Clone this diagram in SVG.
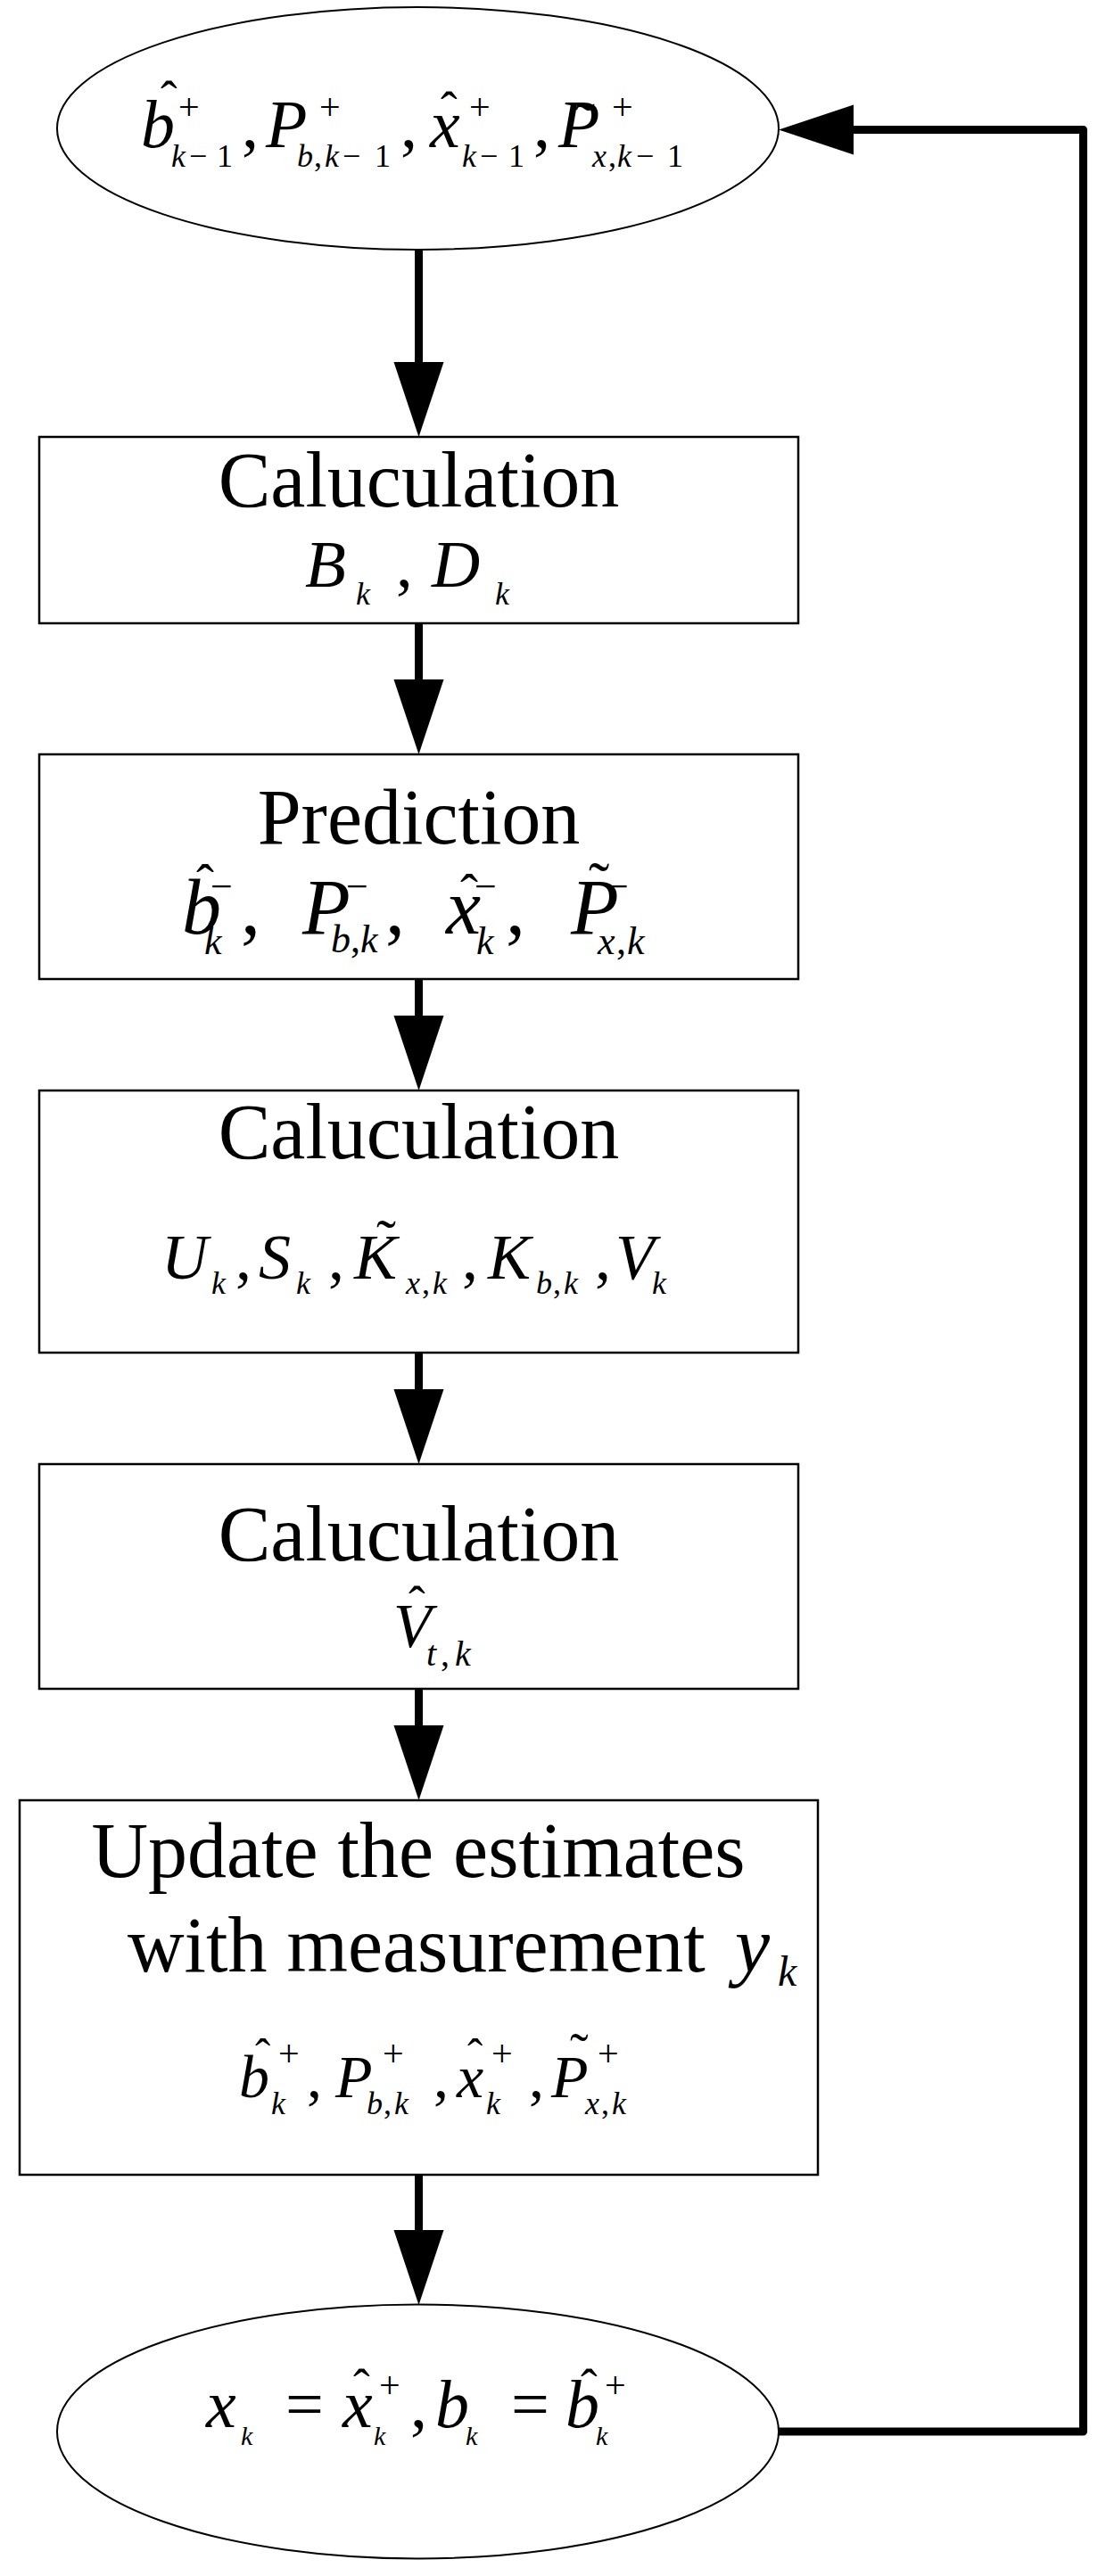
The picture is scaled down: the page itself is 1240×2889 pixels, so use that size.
<svg xmlns="http://www.w3.org/2000/svg" width="1240" height="2889" viewBox="0 0 1240 2889">
<defs>
<style>
text { font-family: "Liberation Serif", "Times New Roman", serif; fill: #000; }
.i { font-style: italic; }
.t { font-size: 88px; }
.node { fill: #fff; stroke: #000; stroke-width: 2.5; }
.oval { fill: #fff; stroke: #000; stroke-width: 2; }
.conn { fill: none; stroke: #000; stroke-width: 9; }
</style>
<marker id="ah" markerUnits="userSpaceOnUse" markerWidth="84" markerHeight="56" refX="0" refY="28" orient="auto" overflow="visible">
<path d="M0,0 L84,28 L0,56 Z" fill="#000"/>
</marker>
</defs>
<rect width="1240" height="2889" fill="#fff"/>

<g id="connectors">
<line class="conn" x1="469.5" y1="280" x2="469.5" y2="406" marker-end="url(#ah)"/>
<line class="conn" x1="469.5" y1="699" x2="469.5" y2="762" marker-end="url(#ah)"/>
<line class="conn" x1="469.5" y1="1098" x2="469.5" y2="1139" marker-end="url(#ah)"/>
<line class="conn" x1="469.5" y1="1517" x2="469.5" y2="1558" marker-end="url(#ah)"/>
<line class="conn" x1="469.5" y1="1894" x2="469.5" y2="1935" marker-end="url(#ah)"/>
<line class="conn" x1="469.5" y1="2439" x2="469.5" y2="2501" marker-end="url(#ah)"/>
<path class="conn" d="M873,2727 H1214.5 V145.5 H957" stroke-linejoin="round" stroke-linecap="round" marker-end="url(#ah)"/>
</g>

<g id="start">
<ellipse class="oval" cx="468.5" cy="144" rx="404.5" ry="136"/>
<text font-size="76"><tspan class="i" x="158" y="165">b</tspan><tspan x="180" y="130" font-size="56">ˆ</tspan><tspan x="200" y="134" font-size="42">+</tspan><tspan class="i" x="192" y="187" font-size="36">k</tspan><tspan x="212" y="187" font-size="36">−</tspan><tspan x="243" y="187" font-size="36">1</tspan><tspan x="271" y="165">,</tspan><tspan class="i" x="298" y="165">P</tspan><tspan x="358" y="134" font-size="42">+</tspan><tspan class="i" x="333" y="187" font-size="36">b</tspan><tspan x="352" y="187" font-size="36">,</tspan><tspan class="i" x="364" y="187" font-size="36">k</tspan><tspan x="384" y="187" font-size="36">−</tspan><tspan x="420" y="187" font-size="36">1</tspan><tspan x="449" y="165">,</tspan><tspan class="i" x="482" y="165">x</tspan><tspan x="494" y="142" font-size="56">ˆ</tspan><tspan x="526" y="134" font-size="42">+</tspan><tspan class="i" x="518" y="187" font-size="36">k</tspan><tspan x="538" y="187" font-size="36">−</tspan><tspan x="570" y="187" font-size="36">1</tspan><tspan x="598" y="165">,</tspan><tspan class="i" x="626" y="165">P</tspan><tspan x="645" y="160" font-size="66">˜</tspan><tspan x="686" y="134" font-size="42">+</tspan><tspan class="i" x="664" y="187" font-size="36">x</tspan><tspan x="682" y="187" font-size="36">,</tspan><tspan class="i" x="692" y="187" font-size="36">k</tspan><tspan x="713" y="187" font-size="36">−</tspan><tspan x="748" y="187" font-size="36">1</tspan></text>
</g>

<g id="calc1">
<rect class="node" x="44" y="490" width="851" height="209"/>
<text class="t" x="469.5" y="568" text-anchor="middle">Caluculation</text>
<text font-size="75"><tspan class="i" x="342" y="658">B</tspan><tspan class="i" x="399" y="678" font-size="36">k</tspan><tspan x="444" y="658">,</tspan><tspan class="i" x="484" y="658">D</tspan><tspan class="i" x="555" y="678" font-size="36">k</tspan></text>
</g>

<g id="prediction">
<rect class="node" x="44" y="846" width="851" height="252"/>
<text class="t" x="469.5" y="946" text-anchor="middle">Prediction</text>
<text font-size="88"><tspan class="i" x="204" y="1047">b</tspan><tspan x="220" y="1010" font-size="60">ˆ</tspan><tspan x="236" y="1009" font-size="44">−</tspan><tspan class="i" x="229" y="1070" font-size="44">k</tspan><tspan x="270" y="1047">,</tspan><tspan class="i" x="339" y="1047">P</tspan><tspan x="388" y="1009" font-size="44">−</tspan><tspan class="i" x="371" y="1068" font-size="44">b</tspan><tspan x="393" y="1068" font-size="44">,</tspan><tspan class="i" x="404" y="1068" font-size="44">k</tspan><tspan x="432" y="1047">,</tspan><tspan class="i" x="500" y="1047">x</tspan><tspan x="516" y="1021" font-size="60">ˆ</tspan><tspan x="532" y="1009" font-size="44">−</tspan><tspan class="i" x="534" y="1070" font-size="44">k</tspan><tspan x="567" y="1047">,</tspan><tspan class="i" x="640" y="1047">P</tspan><tspan x="660" y="1015" font-size="70">˜</tspan><tspan x="680" y="1009" font-size="44">−</tspan><tspan class="i" x="670" y="1070" font-size="44">x</tspan><tspan x="691" y="1070" font-size="44">,</tspan><tspan class="i" x="703" y="1070" font-size="44">k</tspan></text>
</g>

<g id="calc2">
<rect class="node" x="44" y="1223" width="851" height="294"/>
<text class="t" x="469.5" y="1299" text-anchor="middle">Caluculation</text>
<text font-size="72"><tspan class="i" x="181" y="1434">U</tspan><tspan class="i" x="237" y="1451" font-size="36">k</tspan><tspan x="264" y="1434">,</tspan><tspan class="i" x="290" y="1434">S</tspan><tspan class="i" x="332" y="1451" font-size="36">k</tspan><tspan x="368" y="1434">,</tspan><tspan class="i" x="397" y="1434">K</tspan><tspan x="422" y="1413" font-size="66">˜</tspan><tspan class="i" x="455" y="1451" font-size="36">x</tspan><tspan x="473" y="1451" font-size="36">,</tspan><tspan class="i" x="485" y="1451" font-size="36">k</tspan><tspan x="518" y="1434">,</tspan><tspan class="i" x="547" y="1434">K</tspan><tspan class="i" x="601" y="1451" font-size="36">b</tspan><tspan x="620" y="1451" font-size="36">,</tspan><tspan class="i" x="632" y="1451" font-size="36">k</tspan><tspan x="667" y="1434">,</tspan><tspan class="i" x="690" y="1434">V</tspan><tspan class="i" x="731" y="1451" font-size="36">k</tspan></text>
</g>

<g id="calc3">
<rect class="node" x="44" y="1642" width="851" height="252"/>
<text class="t" x="469.5" y="1750" text-anchor="middle">Caluculation</text>
<text font-size="70"><tspan class="i" x="441" y="1847">V</tspan><tspan x="458" y="1818" font-size="56">ˆ</tspan><tspan class="i" x="478" y="1868" font-size="40">t</tspan><tspan x="494" y="1868" font-size="40">,</tspan><tspan class="i" x="510" y="1868" font-size="40">k</tspan></text>
</g>

<g id="update">
<rect class="node" x="22" y="2019" width="895" height="420"/>
<text class="t" x="469" y="2105" text-anchor="middle">Update the estimates</text>
<text class="t"><tspan x="143" y="2211">with measurement</tspan><tspan class="i" x="824" y="2211">y</tspan><tspan class="i" x="872" y="2227" font-size="48">k</tspan></text>
<text font-size="68"><tspan class="i" x="268" y="2352">b</tspan><tspan x="286" y="2323" font-size="52">ˆ</tspan><tspan x="312" y="2317" font-size="42">+</tspan><tspan class="i" x="304" y="2371" font-size="36">k</tspan><tspan x="344" y="2352">,</tspan><tspan class="i" x="376" y="2352">P</tspan><tspan x="429" y="2317" font-size="42">+</tspan><tspan class="i" x="411" y="2371" font-size="36">b</tspan><tspan x="430" y="2371" font-size="36">,</tspan><tspan class="i" x="442" y="2371" font-size="36">k</tspan><tspan x="486" y="2352">,</tspan><tspan class="i" x="512" y="2352">x</tspan><tspan x="524" y="2323" font-size="52">ˆ</tspan><tspan x="551" y="2317" font-size="42">+</tspan><tspan class="i" x="545" y="2371" font-size="36">k</tspan><tspan x="593" y="2352">,</tspan><tspan class="i" x="618" y="2352">P</tspan><tspan x="639" y="2323" font-size="62">˜</tspan><tspan x="670" y="2317" font-size="42">+</tspan><tspan class="i" x="656" y="2371" font-size="36">x</tspan><tspan x="674" y="2371" font-size="36">,</tspan><tspan class="i" x="686" y="2371" font-size="36">k</tspan></text>
</g>

<g id="end">
<ellipse class="oval" cx="468.5" cy="2727" rx="404.5" ry="142.5"/>
<text font-size="76"><tspan class="i" x="231" y="2722">x</tspan><tspan class="i" x="270" y="2742" font-size="30">k</tspan><tspan x="320" y="2722">=</tspan><tspan class="i" x="384" y="2722">x</tspan><tspan x="396" y="2696" font-size="56">ˆ</tspan><tspan x="425" y="2689" font-size="42">+</tspan><tspan class="i" x="419" y="2742" font-size="30">k</tspan><tspan x="460" y="2722">,</tspan><tspan class="i" x="488" y="2722">b</tspan><tspan class="i" x="522" y="2742" font-size="30">k</tspan><tspan x="573" y="2722">=</tspan><tspan class="i" x="634" y="2722">b</tspan><tspan x="651" y="2696" font-size="56">ˆ</tspan><tspan x="678" y="2689" font-size="42">+</tspan><tspan class="i" x="668" y="2742" font-size="30">k</tspan></text>
</g>
</svg>
